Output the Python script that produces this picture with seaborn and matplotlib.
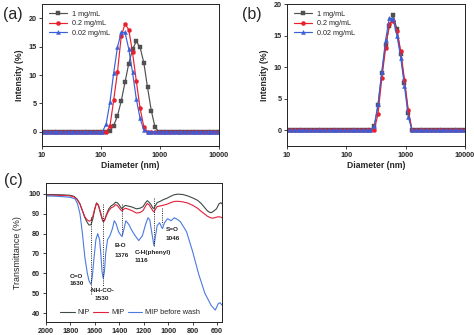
import matplotlib
matplotlib.use("Agg")
import matplotlib.pyplot as plt
import seaborn as sns
from matplotlib.ticker import FixedLocator, LogLocator, NullFormatter, FixedFormatter

sns.set_theme(style="ticks")
plt.rcParams['font.family'] = ['Liberation Sans', 'DejaVu Sans']

# ---- DLS size bins (nm) ----
diameter = [10.1, 11.7, 13.54, 15.69, 18.17, 21.04, 24.36, 28.21, 32.67, 37.84,
            43.82, 50.75, 58.77, 68.06, 78.82, 91.28, 105.7, 122.4, 141.8, 164.2,
            190.1, 220.2, 255.0, 295.3, 342.0, 396.1, 458.7, 531.2, 615.1, 712.4,
            825.0, 955.4, 1106, 1281, 1484, 1718, 1990, 2305, 2669, 3091,
            3580, 4145, 4801, 5560, 6439, 7456, 8635, 10000]

conc_labels = ["1 mg/mL", "0.2 mg/mL", "0.02 mg/mL"]

# (a) intensity distributions
a_1mg = [0, 0, 0, 0, 0, 0, 0, 0, 0, 0,
         0, 0, 0, 0, 0, 0, 0, 0, 0.2, 1.1,
         2.8, 5.4, 8.7, 12.0, 14.5, 15.9, 14.9, 12.2, 7.8, 3.7,
         0.8, 0, 0, 0, 0, 0, 0, 0, 0, 0,
         0, 0, 0, 0, 0, 0, 0, 0]
a_02mg = [0, 0, 0, 0, 0, 0, 0, 0, 0, 0,
          0, 0, 0, 0, 0, 0, 0, 0, 1.0, 5.6,
          10.5, 16.8, 19.0, 18.0, 14.0, 9.0, 4.2, 0.9, 0, 0,
          0, 0, 0, 0, 0, 0, 0, 0, 0, 0,
          0, 0, 0, 0, 0, 0, 0, 0]
a_002mg = [0, 0, 0, 0, 0, 0, 0, 0, 0, 0,
           0, 0, 0, 0, 0, 0, 0, 1.4, 5.2, 10.4,
           14.9, 17.5, 17.5, 14.6, 10.5, 5.8, 2.4, 0.3, 0, 0,
           0, 0, 0, 0, 0, 0, 0, 0, 0, 0,
           0, 0, 0, 0, 0, 0, 0, 0]

# (b) intensity distributions
b_1mg = [0, 0, 0, 0, 0, 0, 0, 0, 0, 0,
         0, 0, 0, 0, 0, 0, 0, 0, 0, 0,
         0, 0, 0, 0.6, 4.0, 9.0, 13.5, 16.5, 18.3, 16.0,
         12.0, 7.5, 2.8, 0, 0, 0, 0, 0, 0, 0,
         0, 0, 0, 0, 0, 0, 0, 0]
b_02mg = [0, 0, 0, 0, 0, 0, 0, 0, 0, 0,
          0, 0, 0, 0, 0, 0, 0, 0, 0, 0,
          0, 0, 0, 0, 2.6, 8.2, 13.0, 16.8, 17.3, 15.8,
          12.6, 8.0, 3.2, 0, 0, 0, 0, 0, 0, 0,
          0, 0, 0, 0, 0, 0, 0, 0]
b_002mg = [0, 0, 0, 0, 0, 0, 0, 0, 0, 0,
           0, 0, 0, 0, 0, 0, 0, 0, 0, 0,
           0, 0, 0, 0.6, 4.1, 9.3, 14.3, 17.8, 17.6, 15.0,
           11.5, 7.0, 2.1, 0, 0, 0, 0, 0, 0, 0,
           0, 0, 0, 0, 0, 0, 0, 0]

# ---- FTIR spectra (wavenumber cm-1, transmittance %) ----
nip_wn = [2000, 1950, 1900, 1850, 1800, 1770, 1745, 1720, 1700, 1680, 1660, 1645, 1630,
          1615, 1600, 1585, 1570, 1555, 1540, 1530, 1520, 1505, 1485, 1465, 1445, 1430,
          1415, 1400, 1385, 1376, 1365, 1350, 1320, 1290, 1260, 1230, 1205, 1185, 1170,
          1155, 1140, 1125, 1116, 1105, 1090, 1060, 1040, 1010, 980, 950, 920, 880, 840,
          800, 760, 730, 700, 680, 660, 645, 625, 605, 585, 570, 560]
nip_t = [99.6, 99.7, 99.6, 99.5, 99.3, 98.8, 97.5, 95.0, 91.5, 88.0, 85.5, 84.3, 84.5,
         87.5, 92.0, 95.5, 94.5, 91.0, 87.5, 86.0, 86.5, 89.5, 92.5, 94.0, 94.8, 95.8,
         95.6, 94.5, 93.0, 92.6, 93.5, 94.2, 93.8, 93.3, 92.5, 92.8, 93.6, 95.5, 96.6,
         95.8, 94.6, 93.0, 92.6, 94.0, 95.6, 96.4, 97.1, 97.8, 98.8, 99.6, 99.9, 99.7, 99.0,
         98.0, 96.8, 95.2, 93.0, 91.5, 90.7, 90.6, 91.5, 92.5, 95.0, 95.6, 95.0]

mip_wn = nip_wn
mip_t = [99.3, 99.4, 99.3, 99.2, 99.0, 98.5, 97.3, 94.8, 91.5, 88.5, 86.8, 86.3, 86.6,
         88.8, 92.5, 95.2, 94.3, 91.2, 88.0, 86.3, 86.6, 89.0, 91.5, 93.0, 93.6, 94.6,
         94.2, 93.0, 91.8, 91.4, 92.2, 92.8, 92.2, 91.4, 90.4, 90.6, 91.6, 93.8, 95.2,
         94.5, 93.0, 91.5, 91.0, 92.2, 93.6, 94.0, 94.3, 94.8, 95.6, 96.2, 96.3, 96.0, 95.4,
         94.3, 92.8, 91.2, 89.8, 88.8, 88.2, 87.8, 87.9, 88.3, 88.5, 88.3, 88.0]

raw_wn = [2000, 1900, 1800, 1760, 1740, 1720, 1700, 1680, 1660, 1645, 1630, 1620, 1605,
          1590, 1575, 1560, 1550, 1540, 1530, 1520, 1510, 1495, 1475, 1455, 1440, 1425,
          1405, 1390, 1376, 1362, 1345, 1320, 1300, 1270, 1240, 1210, 1185, 1165, 1150,
          1135, 1116, 1105, 1090, 1070, 1055, 1046, 1030, 1005, 975, 950, 920, 900, 850,
          800, 750, 700, 650, 615, 590, 575, 560]
raw_t = [99.0, 98.8, 98.3, 97.5, 95.0, 90.0, 80.0, 68.0, 60.0, 56.0, 54.5, 58.0, 68.0,
         77.0, 80.0, 77.0, 70.0, 61.0, 57.5, 61.0, 70.0, 77.0, 79.0, 82.5, 86.5, 85.0,
         81.0, 79.5, 78.5, 82.0, 86.5, 84.5, 82.0, 79.0, 76.5, 79.0, 84.5, 88.0, 87.0,
         81.0, 74.0, 78.0, 84.0, 85.5, 83.5, 82.5, 85.5, 87.5, 86.5, 88.0, 87.0, 86.0, 81.0,
         71.0, 59.5, 50.0, 44.0, 41.5, 44.8, 45.2, 44.0]

ir_labels = ["NIP", "MIP", "MIP before wash"]

# band assignments: (name, wavenumber, line top, line bottom, text x, text y name, text y number, align)
bands = [("C=O", 1630, 88.5, 49.0, 1747, 58.2, 54.9, "center"),
         ("-NH-CO-", 1530, 95.0, 53.5, 1540, 51.5, 47.3, "center"),
         ("B-O", 1376, 95.0, 80.0, 1441, 74.2, 69.2, "left"),
         ("C-H(phenyl)", 1116, 97.8, 73.4, 1271, 70.6, 66.3, "left"),
         ("S=O", 1046, 93.0, 85.0, 964, 82.3, 77.3, "center")]

dls_colors = ["#505050", "#e8202c", "#3b5fd8"]
dls_markers = ["s", "o", "^"]
ir_colors = ["#3d4a42", "#e0203a", "#4a7ae0"]

W, H = 474, 335
fig = plt.figure(figsize=(W / 100, H / 100), dpi=100)


def box(left, top, right, bottom):
    return [left / W, 1 - bottom / H, (right - left) / W, (bottom - top) / H]


ax_a = fig.add_axes(box(42, 4, 219, 146))
ax_b = fig.add_axes(box(287, 4, 465, 146))
ax_c = fig.add_axes(box(45.7, 183, 222, 322))


def style_axes(ax):
    for sp in ax.spines.values():
        sp.set_visible(True)
        sp.set_linewidth(0.7)
        sp.set_color("#222222")
    ax.tick_params(which="both", direction="out", width=0.6, color="#222222", pad=1.5)
    ax.tick_params(which="major", length=2.5)
    ax.tick_params(which="minor", length=1.4)
    for lbl in ax.get_xticklabels() + ax.get_yticklabels():
        lbl.set_fontsize(5.2)
        lbl.set_fontweight("bold")


def dls_panel(ax, series, ylim, yticks):
    for vals, lab, col, mk in zip(series, conc_labels, dls_colors, dls_markers):
        sns.lineplot(x=diameter, y=vals, ax=ax, color=col, marker=mk, markersize=2.9,
                     markeredgecolor=col, markeredgewidth=0.3, linewidth=0.85,
                     label=lab, estimator=None, sort=False)
    ax.set_xscale("log")
    ax.set_xlim(10, 10000)
    ax.set_ylim(*ylim)
    ax.xaxis.set_major_locator(FixedLocator([10, 100, 1000, 10000]))
    ax.xaxis.set_major_formatter(FixedFormatter(["10", "100", "1000", "10000"]))
    ax.xaxis.set_minor_locator(LogLocator(base=10, subs=range(2, 10)))
    ax.xaxis.set_minor_formatter(NullFormatter())
    ax.yaxis.set_major_locator(FixedLocator(yticks))
    ax.set_xlabel("Diameter (nm)", fontsize=6.2, fontweight="bold", labelpad=2)
    ax.set_ylabel("Intensity (%)", fontsize=6.2, fontweight="bold", labelpad=3)
    style_axes(ax)
    ax.legend(loc="upper left", bbox_to_anchor=(0.0, 1.0), frameon=False,
              fontsize=5.2, handlelength=2.6, handletextpad=0.6,
              labelspacing=0.35, borderaxespad=0.5)


dls_panel(ax_a, [a_1mg, a_02mg, a_002mg], (-2.5, 22.5), [0, 5, 10, 15, 20])
dls_panel(ax_b, [b_1mg, b_02mg, b_002mg], (-2.5, 20), [0, 5, 10, 15, 20])

# (c) FTIR spectra
for wn, t, lab, col in zip([nip_wn, mip_wn, raw_wn], [nip_t, mip_t, raw_t], ir_labels, ir_colors):
    sns.lineplot(x=wn, y=t, ax=ax_c, color=col, linewidth=0.8, label=lab,
                 estimator=None, sort=False)
ax_c.set_xlim(2000, 560)
ax_c.set_ylim(35.5, 105.5)
ax_c.xaxis.set_major_locator(FixedLocator([2000, 1800, 1600, 1400, 1200, 1000, 800, 600]))
ax_c.yaxis.set_major_locator(FixedLocator([40, 50, 60, 70, 80, 90, 100]))
ax_c.set_xlabel("")
ax_c.set_ylabel("Transmittance (%)", fontsize=6.4, labelpad=4)
style_axes(ax_c)

for name, wn0, top, bot, tx, ty1, ty2, ha in bands:
    ax_c.plot([wn0, wn0], [top, bot], color="#222222", linestyle=(0, (1, 1.3)), linewidth=0.7)
    ax_c.text(tx, ty1, name, fontsize=4.6, fontweight="bold", ha=ha, va="center", color="#222222")
    ax_c.text(tx, ty2, str(wn0), fontsize=4.6, fontweight="bold", ha=ha, va="center", color="#222222")

ax_c.legend(loc="lower left", bbox_to_anchor=(0.05, 0.0), ncol=3, frameon=False,
            fontsize=5.3, handlelength=2.0, handletextpad=0.4, columnspacing=0.45,
            borderaxespad=0.35)

fig.text(13 / W, 1 - 14 / H, "(a)", fontsize=11.5, ha="center", va="center")
fig.text(252 / W, 1 - 14 / H, "(b)", fontsize=11.5, ha="center", va="center")
fig.text(13 / W, 1 - 180 / H, "(c)", fontsize=11.5, ha="center", va="center")

fig.savefig("out.png", dpi=100)
